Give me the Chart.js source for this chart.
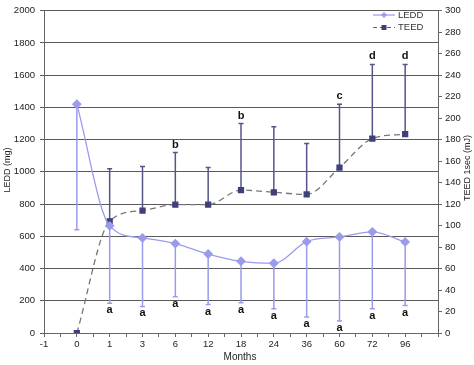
<!DOCTYPE html>
<html>
<head>
<meta charset="utf-8">
<script src="https://cdn.jsdelivr.net/npm/chart.js@4"></script>
<style>
  html, body { margin: 0; padding: 0; background: #fff; }
  #wrap { width: 474px; height: 365px; }
</style>
</head>
<body>
<div id="wrap"><canvas id="leddChart"></canvas></div>
<script>
// x axis labels (index = position on axis)
const monthLabels = ['-1', '0', '1', '3', '6', '12', '18', '24', '36', '60', '72', '96', ''];
const pointIdx = [1, 2, 3, 4, 5, 6, 7, 8, 9, 10, 11];

const leddValues = [1420, 665, 590, 555, 490, 445, 433, 567, 596, 628, 565];
const leddLower  = [640, 185, 165, 225, 177, 187, 150, 100, 75, 150, 170];
const leddLetters = ['', 'a', 'a', 'a', 'a', 'a', 'a', 'a', 'a', 'a', 'a'];

const teedValues = [0, 104, 114, 119.5, 119.5, 133, 131, 129, 154, 181, 185];
const teedUpper  = [null, 153, 155, 168, 154, 195, 192, 176.5, 213, 250, 250];
const teedLetters = ['', '', '', 'b', '', 'b', '', '', 'c', 'd', 'd'];

const leddColor = '#9b9bec';
const teedColor = '#3f3f7c';
const fontFam = 'Liberation Sans, Arial, sans-serif';

const ctx = document.getElementById('leddChart').getContext('2d');

const extras = {
    id: 'extras',
    beforeDatasetsDraw(chart) {
        const c = chart.ctx;
        const xs = chart.scales.x, ys = chart.scales.y, ys1 = chart.scales.y1;
        c.save();
        c.lineWidth = 1.5;
        for (let i = 0; i < pointIdx.length; i++) {
            const px = xs.getPixelForValue(pointIdx[i]);
            // LEDD lower bars
            c.strokeStyle = leddColor;
            const a = ys.getPixelForValue(leddValues[i]);
            const b = ys.getPixelForValue(leddLower[i]);
            c.beginPath();
            c.moveTo(px, a); c.lineTo(px, b);
            c.moveTo(px - 2.5, b); c.lineTo(px + 2.5, b);
            c.stroke();
            // TEED upper bars
            if (teedUpper[i] != null) {
                c.strokeStyle = '#55558a';
                const t = ys1.getPixelForValue(teedValues[i]);
                const u = ys1.getPixelForValue(teedUpper[i]);
                c.beginPath();
                c.moveTo(px, t); c.lineTo(px, u);
                c.moveTo(px - 2.5, u); c.lineTo(px + 2.5, u);
                c.stroke();
            }
        }
        c.restore();
    },
    afterDraw(chart) {
        const c = chart.ctx;
        const xs = chart.scales.x, ys = chart.scales.y, ys1 = chart.scales.y1;
        c.save();
        c.fillStyle = '#111';
        c.font = 'bold 11px ' + fontFam;
        c.textAlign = 'center';
        c.textBaseline = 'middle';
        for (let i = 0; i < pointIdx.length; i++) {
            const px = xs.getPixelForValue(pointIdx[i]);
            if (leddLetters[i]) {
                c.fillText(leddLetters[i], px, ys.getPixelForValue(leddLower[i]) + 7);
            }
            if (teedLetters[i]) {
                c.fillText(teedLetters[i], px, ys1.getPixelForValue(teedUpper[i]) - 8);
            }
        }
        // axis titles
        c.fillStyle = '#222';
        c.font = '9px ' + fontFam;
        c.save();
        c.translate(8, 170);
        c.rotate(-Math.PI / 2);
        c.fillText('LEDD (mg)', 0, 0);
        c.restore();
        c.save();
        c.translate(468, 168);
        c.rotate(-Math.PI / 2);
        c.fillText('TEED 1sec (mJ)', 0, 0);
        c.restore();
        c.font = '10px ' + fontFam;
        c.fillText('Months', 240, 357);

        // legend
        c.font = '9.5px ' + fontFam;
        c.textAlign = 'left';
        c.lineWidth = 1.2;
        c.strokeStyle = leddColor;
        c.beginPath(); c.moveTo(373, 15); c.lineTo(395, 15); c.stroke();
        c.fillStyle = leddColor;
        c.beginPath();
        c.moveTo(384, 12); c.lineTo(387, 15); c.lineTo(384, 18); c.lineTo(381, 15);
        c.closePath(); c.fill();
        c.fillStyle = '#333';
        c.fillText('LEDD', 398, 15);
        c.strokeStyle = '#666';
        c.setLineDash([4, 3]);
        c.beginPath(); c.moveTo(373, 27.5); c.lineTo(395, 27.5); c.stroke();
        c.setLineDash([]);
        c.fillStyle = teedColor;
        c.fillRect(381.5, 25, 5, 5);
        c.fillStyle = '#333';
        c.fillText('TEED', 398, 27.5);
        c.restore();
    }
};

new Chart(ctx, {
    type: 'line',
    data: {
        datasets: [
            {
                label: 'LEDD',
                data: pointIdx.map((x, i) => ({ x: x, y: leddValues[i] })),
                yAxisID: 'y',
                borderColor: leddColor,
                backgroundColor: leddColor,
                borderWidth: 1.3,
                pointStyle: 'rectRot',
                pointRadius: 4,
                tension: 0.4,
                cubicInterpolationMode: 'monotone'
            },
            {
                label: 'TEED',
                data: pointIdx.map((x, i) => ({ x: x, y: teedValues[i] })),
                yAxisID: 'y1',
                borderColor: '#777',
                backgroundColor: teedColor,
                borderWidth: 1.3,
                borderDash: [6, 4],
                pointStyle: 'rect',
                pointRadius: 3.5,
                pointBorderColor: teedColor,
                tension: 0.4,
                cubicInterpolationMode: 'monotone'
            }
        ]
    },
    options: {
        responsive: true,
        maintainAspectRatio: false,
        animation: false,
        layout: { padding: { top: 5, bottom: 0, left: 0, right: 0 } },
        scales: {
            x: {
                type: 'linear',
                min: 0,
                max: 12,
                afterFit: (s) => { s.height = 32; },
                afterBuildTicks: (s) => {
                    const t = [];
                    for (let v = 0; v <= 12; v += 0.5) t.push({ value: v });
                    s.ticks = t;
                },
                ticks: {
                    autoSkip: false,
                    maxRotation: 0,
                    padding: 2,
                    color: '#222',
                    font: { family: fontFam, size: 9.5 },
                    callback: (v) => Number.isInteger(v) ? monthLabels[v] : ''
                },
                grid: { drawOnChartArea: false, tickLength: 4, color: '#666' },
                border: { color: '#666' }
            },
            y: {
                position: 'left',
                min: 0,
                max: 2000,
                afterFit: (s) => { s.width = 44; },
                ticks: {
                    stepSize: 200,
                    padding: 5,
                    color: '#222',
                    font: { family: fontFam, size: 9.5 },
                    callback: (v) => String(v)
                },
                grid: { color: '#5a5a5a', lineWidth: 1, tickLength: 4 },
                border: { color: '#666' }
            },
            y1: {
                position: 'right',
                min: 0,
                max: 300,
                afterFit: (s) => { s.width = 36; },
                ticks: {
                    stepSize: 20,
                    padding: 3,
                    color: '#222',
                    font: { family: fontFam, size: 9.5 },
                    callback: (v) => String(v)
                },
                grid: { drawOnChartArea: false, tickLength: 4, color: '#666' },
                border: { color: '#666' }
            }
        },
        plugins: {
            legend: { display: false },
            tooltip: { enabled: false }
        }
    },
    plugins: [extras]
});
</script>
</body>
</html>
